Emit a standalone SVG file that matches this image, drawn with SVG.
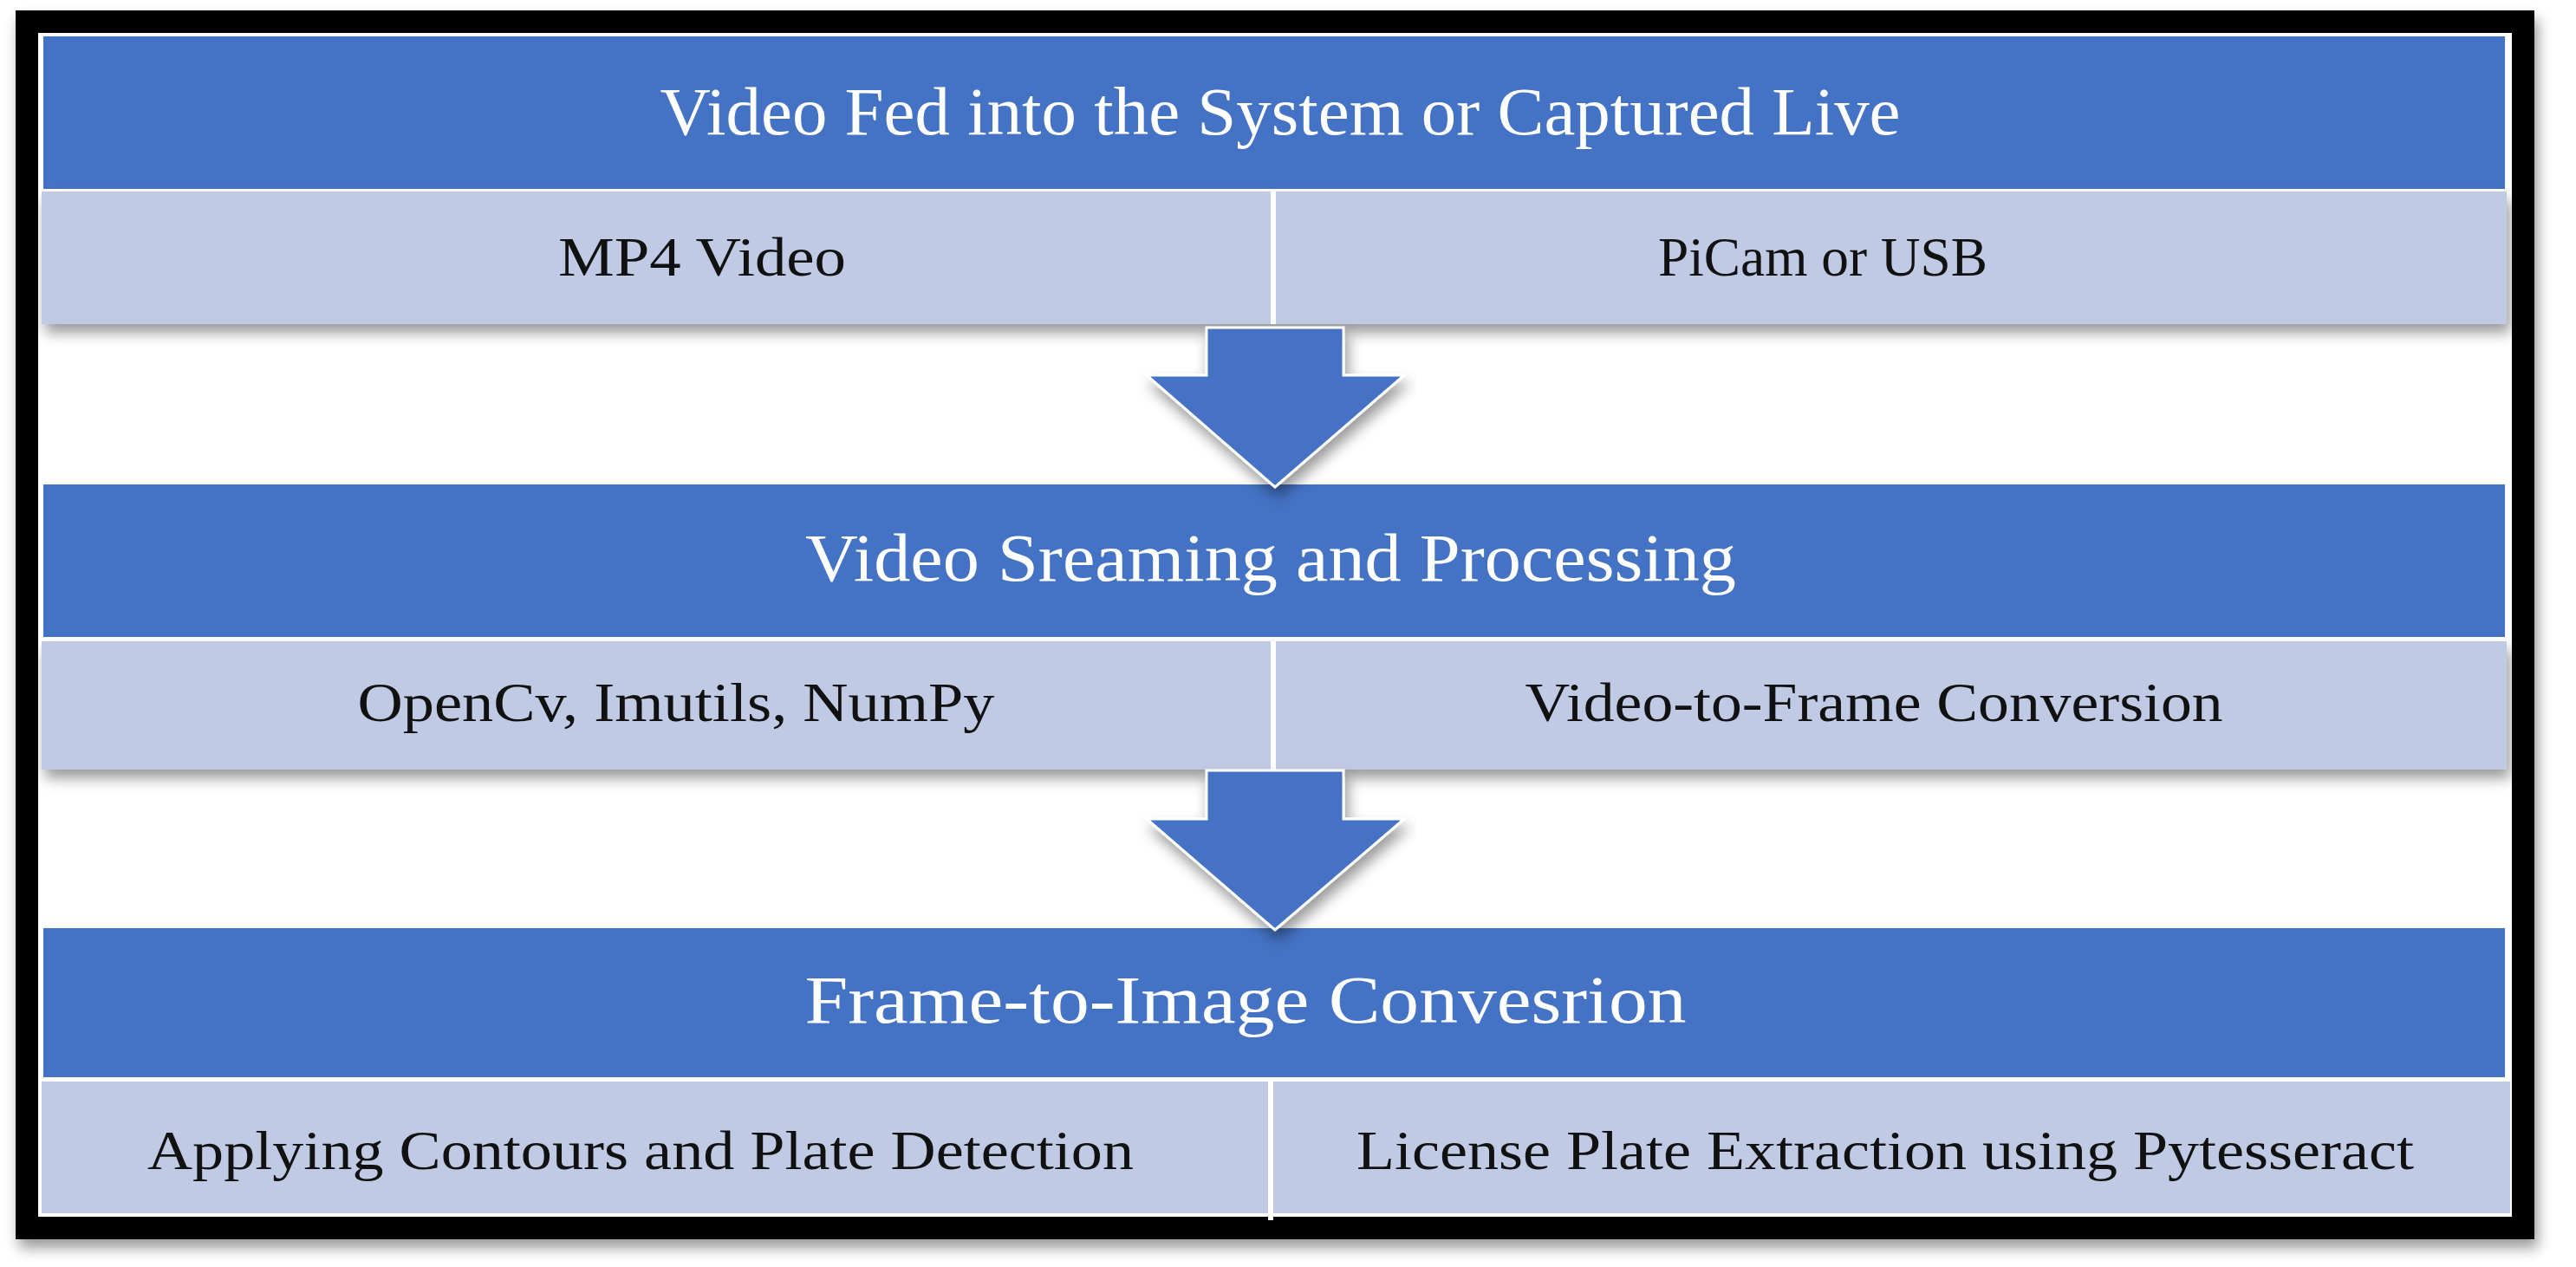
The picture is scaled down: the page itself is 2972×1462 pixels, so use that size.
<svg xmlns="http://www.w3.org/2000/svg" width="2972" height="1462" viewBox="0 0 2972 1462">
<defs>
<style>
.hd{fill:#4472C4}
.lt{fill:#C1CAE4}
.ht{font-family:"Liberation Serif",serif;font-size:78px;fill:#fff;text-anchor:middle}
.tt{font-family:"Liberation Serif",serif;font-size:64px;fill:#111;text-anchor:middle}
.arw{fill:#4472C4;stroke:#fff;stroke-width:3}
</style>
<filter id="sh" x="-5%" y="-20%" width="110%" height="150%"><feDropShadow dx="4" dy="10" stdDeviation="8" flood-color="#000" flood-opacity="0.4"/></filter>
</defs>
<rect x="0" y="0" width="2972" height="1462" fill="#fff"/>
<rect x="31" y="25" width="2880" height="1392" fill="#fff" stroke="#000" stroke-width="26" filter="url(#sh)"/>
<g id="row1">
<rect class="hd" x="50" y="42" width="2840" height="176"/>
<rect class="lt" x="48" y="221" width="2844" height="153" filter="url(#sh)"/>
<rect x="1466" y="221" width="6" height="153" fill="#fff"/>
<text class="ht" x="1477" y="155" textLength="1431" lengthAdjust="spacingAndGlyphs">Video Fed into the System or Captured Live</text>
<text class="tt" x="810" y="318" textLength="332" lengthAdjust="spacingAndGlyphs">MP4 Video</text>
<text class="tt" x="2103" y="318" textLength="380" lengthAdjust="spacingAndGlyphs">PiCam or USB</text>
</g>
<g id="row2">
<rect class="hd" x="50" y="559" width="2840" height="176"/>
<rect class="lt" x="48" y="740" width="2844" height="148" filter="url(#sh)"/>
<rect x="1466" y="740" width="6" height="148" fill="#fff"/>
<text class="ht" x="1466" y="670" textLength="1074" lengthAdjust="spacingAndGlyphs">Video Sreaming and Processing</text>
<text class="tt" x="780" y="832" textLength="735" lengthAdjust="spacingAndGlyphs">OpenCv, Imutils, NumPy</text>
<text class="tt" x="2162" y="832" textLength="805" lengthAdjust="spacingAndGlyphs">Video-to-Frame Conversion</text>
</g>
<g id="row3">
<rect class="hd" x="50" y="1071" width="2840" height="172"/>
<rect class="lt" x="48" y="1248" width="2848" height="152"/>
<rect x="1463" y="1248" width="6" height="160" fill="#fff"/>
<text class="ht" x="1437" y="1180" textLength="1017" lengthAdjust="spacingAndGlyphs">Frame-to-Image Convesrion</text>
<text class="tt" x="739" y="1349" textLength="1138" lengthAdjust="spacingAndGlyphs">Applying Contours and Plate Detection</text>
<text class="tt" x="2175" y="1349" textLength="1220" lengthAdjust="spacingAndGlyphs">License Plate Extraction using Pytesseract</text>
</g>
<g id="connectors">
<polygon class="arw" filter="url(#sh)" points="1392,378 1550,378 1550,433 1620,433 1471,562 1323,433 1392,433"/>
<polygon class="arw" filter="url(#sh)" points="1392,889 1550,889 1550,945 1620,945 1471,1073 1323,945 1392,945"/>
</g>
</svg>
